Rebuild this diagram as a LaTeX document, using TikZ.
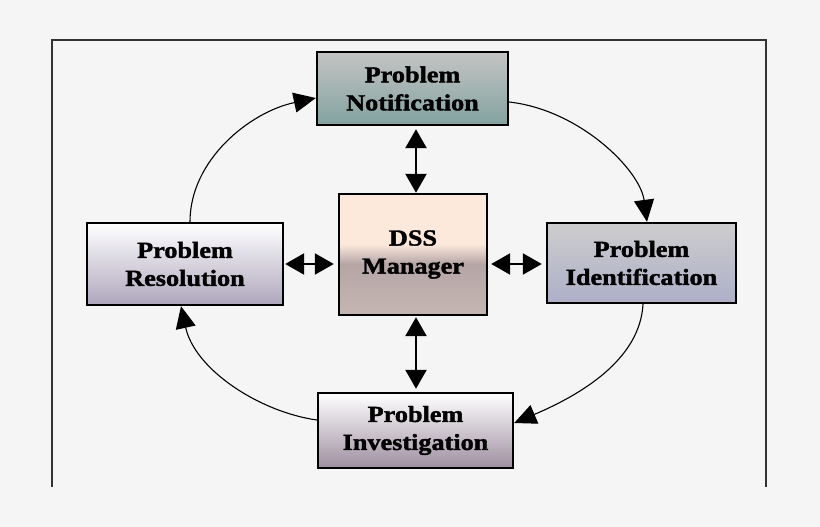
\documentclass[tikz,border=0pt]{standalone}
\usepackage{fontspec}
\newfontfamily\bx{Liberation Serif}[FakeStretch=1.14,FakeBold=1.6]
\usetikzlibrary{arrows.meta}
\definecolor{bg}{HTML}{F5F5F5}
\definecolor{nTop}{HTML}{C4C4C4}
\definecolor{nBot}{HTML}{82A29F}
\definecolor{rBot}{HTML}{AEA6BC}
\definecolor{iTop}{HTML}{CDCDCD}
\definecolor{iBot}{HTML}{ADAFC8}
\definecolor{vBot}{HTML}{9E8EA0}
\definecolor{peach}{HTML}{FCE9DC}
\definecolor{mauve}{HTML}{B5A5A5}
\definecolor{mauveB}{HTML}{C6B6B2}
\tikzset{
  box/.style={draw=black, line width=2.4pt, inner sep=0pt, align=center,
    font=\bx\bfseries\fontsize{23}{28}\selectfont},
  cyc/.style={line width=1.1pt, -{Triangle[length=22pt,width=20pt]}},
  dbl/.style={line width=2.4pt, {Triangle[length=19pt,width=21pt]}-{Triangle[length=19pt,width=21pt]}},
}
\begin{document}
\begin{tikzpicture}[x=1pt,y=-1pt]
\fill[bg] (0,0) rectangle (820,527);
\useasboundingbox (0,0) rectangle (820,527);
\draw[line width=1.4pt, draw=black!80] (52,487) -- (52,40) -- (766,40) -- (766,487);

\node[box, minimum width=191pt, minimum height=73pt, top color=nTop, bottom color=nBot] (not) at (412.5,88.5) {Problem\\Notification};
\node[box, minimum width=148pt, minimum height=121pt,
  path picture={
    \fill[peach] (path picture bounding box.north west) rectangle ([yshift=-50pt]path picture bounding box.north east);
    \shade[top color=peach, bottom color=mauve] ([yshift=-50pt]path picture bounding box.north west) rectangle ([yshift=-70pt]path picture bounding box.north east);
    \shade[top color=mauve, bottom color=mauveB] ([yshift=-70pt]path picture bounding box.north west) rectangle (path picture bounding box.south east);
  }] (dss) at (413,254.5) {DSS\\Manager};
\node[box, minimum width=196pt, minimum height=82pt, top color=white, bottom color=rBot] (res) at (185,264) {Problem\\Resolution};
\node[box, minimum width=189pt, minimum height=80pt, top color=iTop, bottom color=iBot] (ide) at (641.5,263) {Problem\\Identification};
\node[box, minimum width=195pt, minimum height=75pt, top color=white, bottom color=vBot] (inv) at (415.5,430.5) {Problem\\Investigation};

% double arrows
\draw[dbl] ([xshift=3.5pt,yshift=-3pt]not.south) -- ([xshift=3pt]dss.north);
\draw[dbl] ([xshift=3pt,yshift=-1pt]dss.south) -- ([xshift=0.5pt,yshift=3pt]inv.north);
\draw[dbl] ([xshift=1pt,yshift=0pt]res.east) -- ([xshift=-4pt,yshift=-9.5pt]dss.west);
\draw[dbl] ([xshift=3pt,yshift=-9.5pt]dss.east) -- ([xshift=-4pt,yshift=-1pt]ide.west);

% cycle
\draw[cyc] ([xshift=5pt]res.north) .. controls +(0,-62) and (250,112) .. ([yshift=-9.5pt]not.west);
\draw[cyc] ([yshift=-13.5pt]not.east) .. controls (580,110) and (640,170) .. ([xshift=5.5pt]ide.north);
\draw[cyc] ([xshift=1.5pt]ide.south) .. controls (640,360) and (580,395) .. ([yshift=7.5pt]inv.east);
\draw[cyc] ([yshift=10.5pt]inv.west) .. controls (260,412) and (195,370) .. ([xshift=-4pt]res.south);
\end{tikzpicture}
\end{document}
